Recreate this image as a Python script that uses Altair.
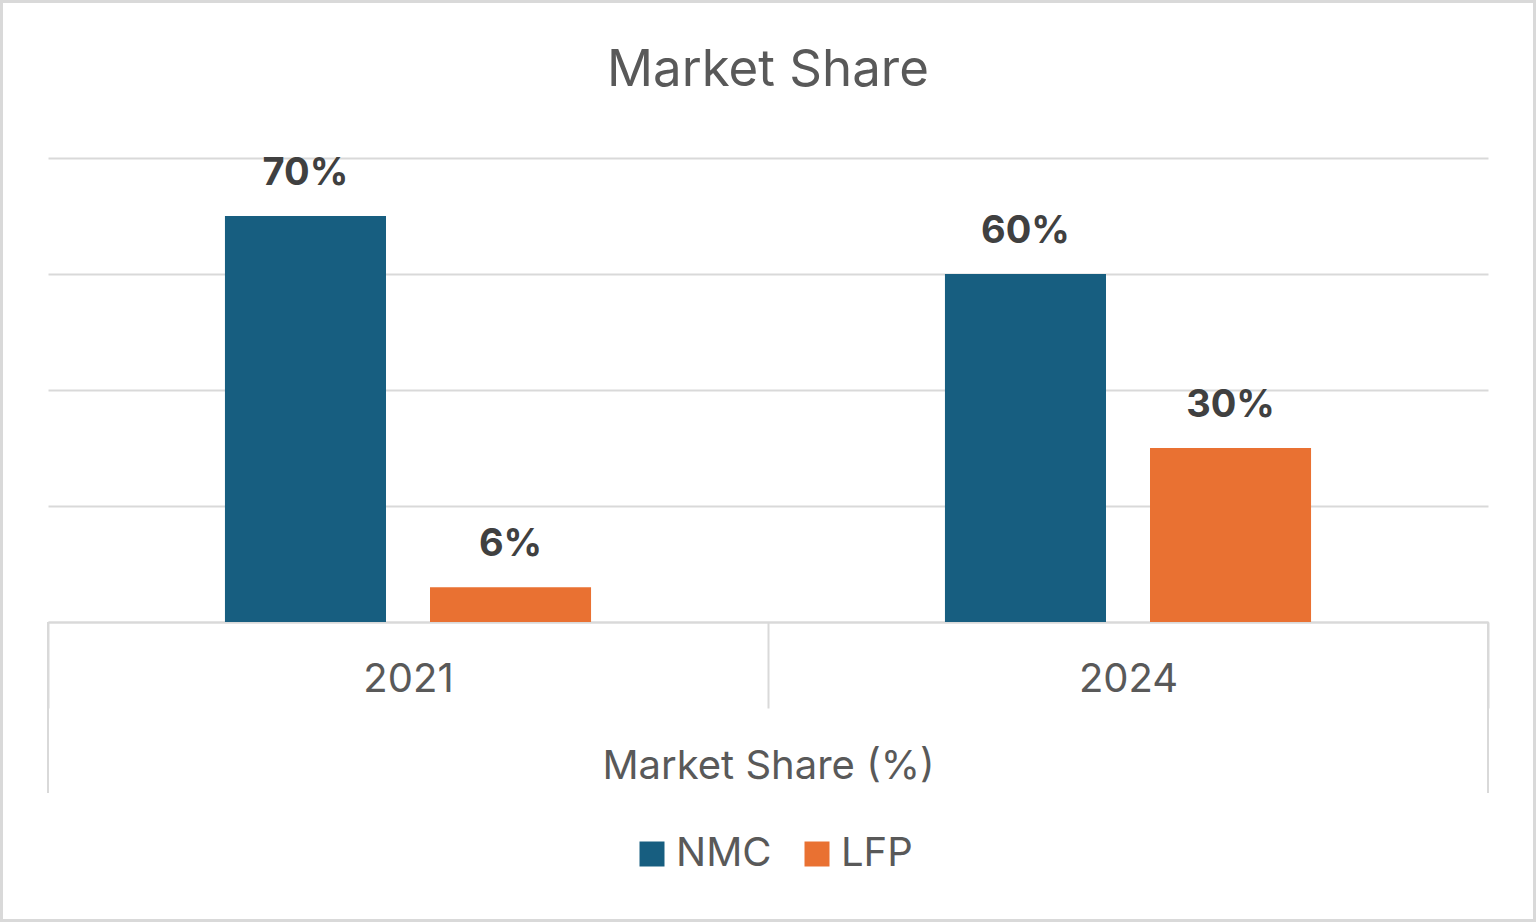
import altair as alt
import pandas as pd

years = ["2021", "2024"]
series = ["NMC", "LFP"]
nmc_values = [70, 60]
lfp_values = [6, 30]
colors = ["#175E80", "#E97132"]
grid_values = [0, 20, 40, 60, 80]
chart_title = "Market Share"
axis_title = "Market Share (%)"

rows = []
for i, y in enumerate(years):
    rows.append({"year": y, "series": "NMC", "value": nmc_values[i]})
    rows.append({"year": y, "series": "LFP", "value": lfp_values[i]})
df = pd.DataFrame(rows)
df["label"] = df["value"].astype(str) + "%"

FONT = "Inter"
W, H = 1440, 464

x_enc = alt.X(
    "year:N",
    sort=years,
    scale=alt.Scale(paddingInner=0, paddingOuter=0),
    axis=alt.Axis(
        title=axis_title,
        titleFontSize=40,
        titleFont=FONT,
        titleFontWeight="normal",
        titleColor="#595959",
        titlePadding=37,
        labelFontSize=40,
        labelFont=FONT,
        labelColor="#595959",
        labelAngle=0,
        labelPadding=-49,
        domain=True,
        domainColor="#d9d9d9",
        domainWidth=2,
        ticks=True,
        tickBand="extent",
        tickSize=86,
        tickColor="#d9d9d9",
        tickWidth=2,
        grid=False,
    ),
)
xoff = alt.XOffset(
    "series:N",
    sort=series,
    scale=alt.Scale(domain=series, paddingInner=0.2146, paddingOuter=0.863),
)
y_enc = alt.Y(
    "value:Q",
    scale=alt.Scale(domain=[0, 80], nice=False),
    axis=alt.Axis(
        title=None,
        values=grid_values,
        labels=False,
        ticks=False,
        domain=False,
        grid=True,
        gridColor="#d9d9d9",
        gridWidth=2,
    ),
)

base = alt.Chart(df)

bars = base.mark_bar().encode(
    x=x_enc,
    xOffset=xoff,
    y=y_enc,
    color=alt.Color(
        "series:N",
        sort=series,
        scale=alt.Scale(domain=series, range=colors),
        legend=alt.Legend(
            title=None,
            orient="none",
            legendX=584,
            legendY=676,
            direction="horizontal",
            symbolType="square",
            symbolSize=625,
            symbolStrokeWidth=0,
            labelFontSize=40,
            labelFont=FONT,
            labelColor="#595959",
            labelOffset=4,
            columnPadding=25,
        ),
    ),
)

labels = base.mark_text(
    baseline="bottom", dy=-23, fontSize=38, fontWeight="bold", font=FONT, color="#404040"
).encode(
    x=alt.X("year:N", sort=years),
    xOffset=xoff,
    y=alt.Y("value:Q"),
    text="label:N",
)

dummy = alt.Data(values=[{"t": chart_title}])
title_mark = alt.Chart(dummy).mark_text(
    fontSize=51, font=FONT, color="#595959", align="center", baseline="alphabetic"
).encode(x=alt.value(W / 2), y=alt.value(-72), text="t:N")

edge_left = alt.Chart(dummy).mark_rule(color="#d9d9d9", strokeWidth=2).encode(
    x=alt.value(0), y=alt.value(H), y2=alt.value(H + 171)
)
edge_right = alt.Chart(dummy).mark_rule(color="#d9d9d9", strokeWidth=2).encode(
    x=alt.value(W), y=alt.value(H), y2=alt.value(H + 171)
)
border = alt.Chart(dummy).mark_rect(
    fill="transparent", stroke="#d9d9d9", strokeWidth=3
).encode(
    x=alt.value(-46.5), x2=alt.value(W + 46.5), y=alt.value(-156.5), y2=alt.value(H + 298.5)
)

chart = (
    alt.layer(border, title_mark, bars, labels, edge_left, edge_right)
    .properties(
        width=W,
        height=H,
        autosize="none",
        padding={"left": 48, "top": 158, "right": 48, "bottom": 300},
        background="white",
    )
    .configure_view(stroke=None)
)

chart.save("out.html", embed_options={"renderer": "svg", "actions": False})
